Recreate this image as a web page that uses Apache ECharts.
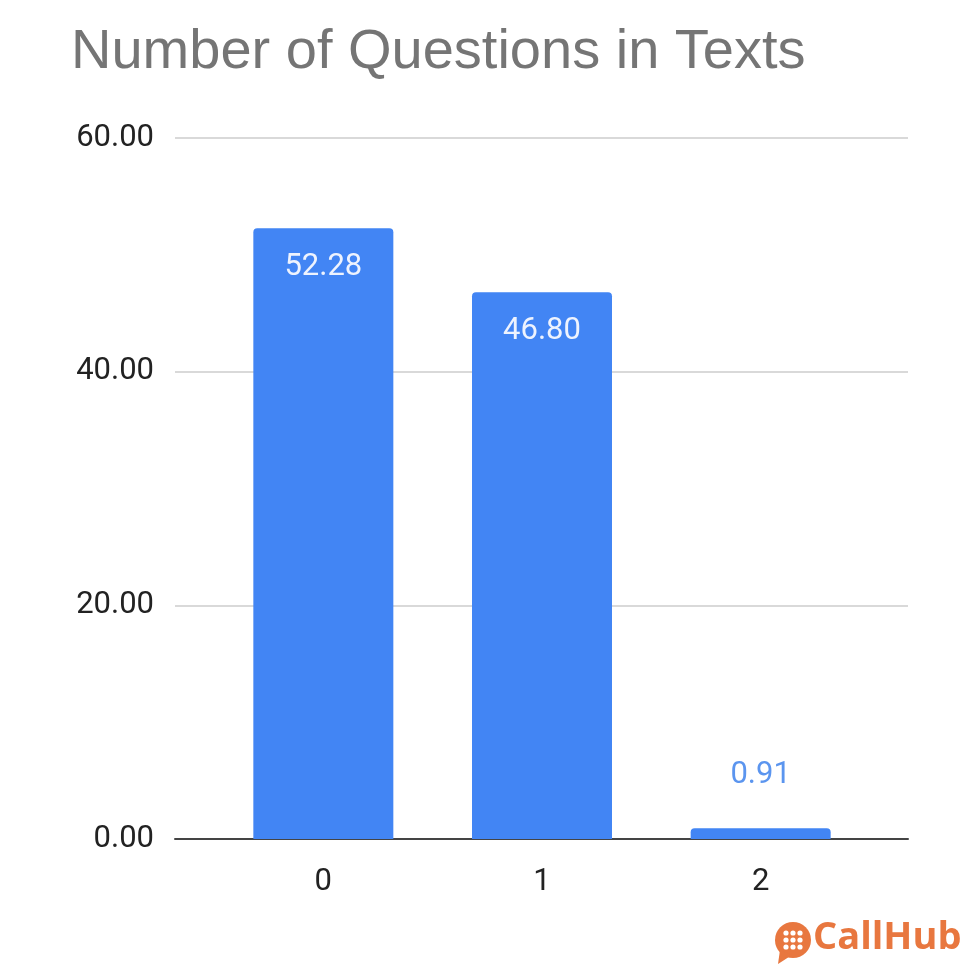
<!DOCTYPE html>
<html>
<head>
<meta charset="utf-8">
<script src="https://cdn.jsdelivr.net/npm/echarts@6/dist/echarts.min.js"></script>
<style>
html,body{margin:0;padding:0;background:#fff;}
#c{width:980px;height:980px;}
</style>
</head>
<body>
<div id="c"></div>
<script>
const categories = ['0', '1', '2'];
const values = [52.28, 46.80, 0.91];
const yTicks = [0, 20, 40, 60];

const chart = echarts.init(document.getElementById('c'));
const barColor = '#4285f4';
const option = {
  backgroundColor: '#ffffff',
  animation: false,
  title: {
    text: 'Number of Questions in Texts',
    left: 66, top: 20,
    textStyle: { fontFamily: 'Liberation Sans, Arial, sans-serif', fontSize: 56, fontWeight: 'normal', color: '#757575' }
  },
  grid: [
    { left: 175, right: 72, top: 138, bottom: 141 },
    { left: 214, right: 110, top: 138, bottom: 141 }
  ],
  xAxis: [
    { type: 'category', gridIndex: 0, data: categories,
      axisLine: { lineStyle: { color: '#444', width: 2 } },
      axisTick: { show: false }, axisLabel: { show: false } },
    { type: 'category', gridIndex: 1, data: categories,
      axisLine: { show: false }, axisTick: { show: false },
      axisLabel: { margin: 28, fontFamily: 'Roboto, sans-serif', fontSize: 31, color: '#222' } }
  ],
  yAxis: [
    { type: 'value', gridIndex: 0, min: yTicks[0], max: yTicks[yTicks.length - 1], interval: 20,
      axisLine: { show: false }, axisTick: { show: false },
      splitLine: { lineStyle: { color: '#cccccc', width: 1.5 } },
      axisLabel: { margin: 21, fontFamily: 'Roboto, sans-serif', fontSize: 31, color: '#222',
        formatter: v => v.toFixed(2) } },
    { type: 'value', gridIndex: 1, min: 0, max: 60, show: false }
  ],
  series: [{
    type: 'bar', xAxisIndex: 1, yAxisIndex: 1,
    data: values.map((v, i) => {
      const small = v < 5;
      return {
        value: v,
        label: small
          ? { position: 'top', distance: 38, color: '#5b95ef' }
          : { position: 'insideTop', distance: 24, color: '#eef3fe' }
      };
    }),
    barWidth: 140,
    itemStyle: { color: barColor, borderRadius: [4, 4, 0, 0] },
    label: { show: true, fontFamily: 'Roboto, sans-serif', fontSize: 31,
      formatter: p => p.value.toFixed(2) }
  }],
  graphic: [
    { type: 'circle', shape: { cx: 793, cy: 940, r: 18 }, style: { fill: '#e8773f' } },
    { type: 'polygon', shape: { points: [[780, 950], [778, 964], [792, 955]] }, style: { fill: '#e8773f' } },
    ...[-7, 0, 7].flatMap(dy => [-7, 0, 7].map(dx => ({
      type: 'circle', shape: { cx: 793 + dx, cy: 940 + dy, r: 2.6 }, style: { fill: '#ffffff' }
    }))),
    { type: 'text', left: 813, top: 919,
      style: { text: 'CallHub', fontFamily: 'Open Sans, Liberation Sans, sans-serif', fontWeight: 'bold', fontSize: 38, fill: '#e8773f' } }
  ]
};
chart.setOption(option);
</script>
</body>
</html>
